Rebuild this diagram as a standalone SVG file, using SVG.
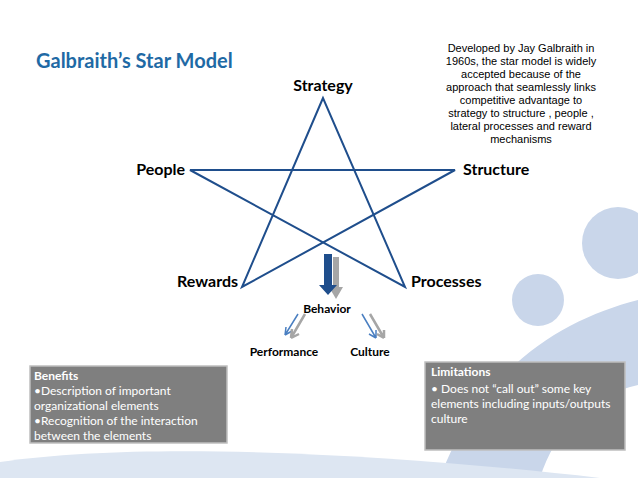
<svg xmlns="http://www.w3.org/2000/svg" width="638" height="478" viewBox="0 0 638 478">
<style>
.lbl{font-family:Lato,"Liberation Sans",sans-serif;font-weight:bold;fill:#000}
.box{fill:#7f7f7f;stroke:#bfbfbf;stroke-width:1.5}
.bt{font-family:Lato,"Liberation Sans",sans-serif;font-size:12px;fill:#fff}
.note{font-family:"Liberation Sans",Arial,sans-serif;font-size:11px;fill:#000}
</style>
<rect width="638" height="478" fill="#fff"/>
<g id="decor" fill="#c9d6ea">
<circle cx="618" cy="243" r="36"/>
<circle cx="538" cy="300" r="26"/>
<path d="M638 300 C560 320 480 370 440 478 L540 478 C555 430 590 395 638 385 Z"/>
<path d="M515 385 L570 350 L555 390 Z"/>
<path d="M0 462 C150 440 400 455 600 478 L0 478 Z" fill="#dde6f2"/>
</g>
<text x="36" y="68" font-family="Lato,Liberation Sans,sans-serif" font-weight="bold" font-size="20" fill="#1f6aa5">Galbraith’s Star Model</text>
<g id="note">
<text class="note" text-anchor="middle"><tspan x="521" y="52">Developed by Jay Galbraith in</tspan><tspan x="521" y="65">1960s, the star model is widely</tspan><tspan x="521" y="78">accepted because of the</tspan><tspan x="521" y="91">approach that seamlessly links</tspan><tspan x="521" y="104">competitive advantage to</tspan><tspan x="521" y="117">strategy to structure , people ,</tspan><tspan x="521" y="130">lateral processes and reward</tspan><tspan x="521" y="143">mechanisms</tspan></text>
</g>
<g id="connectors" stroke="#1f4e8c" stroke-width="2" fill="none">
<polygon points="323,98 242,287 455,170 190,170 405,287"/>
</g>
<g id="strategy"><text class="lbl" x="323" y="91" font-size="16" text-anchor="middle">Strategy</text></g>
<g id="people"><text class="lbl" x="185" y="175" font-size="16" text-anchor="end">People</text></g>
<g id="structure"><text class="lbl" x="463" y="175" font-size="16">Structure</text></g>
<g id="rewards"><text class="lbl" x="238" y="287" font-size="16" text-anchor="end">Rewards</text></g>
<g id="processes"><text class="lbl" x="411" y="287" font-size="16">Processes</text></g>
<g id="arrows">
<polygon points="333,257 339,257 339,287 343,287 336,299 329,287 333,287" fill="#a6a6a6"/>
<polygon points="324,254 332,254 332,285 337,285 328,295 319,285 324,285" fill="#1f4e8c"/>
<g stroke-width="1.5" fill="none">
<path d="M298 314 L285 335 M285 335 L286 327 M285 335 L292 331" stroke="#4a7fc1"/>
<path d="M305 314 L291 338 M291 338 L292 329 M291 338 L299 334" stroke="#a6a6a6" stroke-width="2.5"/>
<path d="M362 314 L376 338 M376 338 L369 334 M376 338 L376 330" stroke="#4a7fc1"/>
<path d="M370 314 L384 338 M384 338 L377 334 M384 338 L384 330" stroke="#a6a6a6" stroke-width="2.5"/>
</g>
</g>
<g id="behavior"><text class="lbl" x="327" y="313" font-size="12" text-anchor="middle">Behavior</text></g>
<g id="performance"><text class="lbl" x="284" y="356" font-size="12" text-anchor="middle">Performance</text></g>
<g id="culture"><text class="lbl" x="370" y="356" font-size="12" text-anchor="middle">Culture</text></g>
<g id="benefits">
<rect class="box" x="30" y="366" width="197" height="77"/>
<text class="bt"><tspan x="34" y="380" font-weight="bold">Benefits</tspan><tspan x="34" y="395">•Description of important</tspan><tspan x="34" y="410">organizational elements</tspan><tspan x="34" y="425">•Recognition of the interaction</tspan><tspan x="34" y="440">between the elements</tspan></text>
</g>
<g id="limitations">
<rect class="box" x="425" y="362" width="200" height="88"/>
<text class="bt"><tspan x="431" y="376" font-weight="bold">Limitations</tspan><tspan x="431" y="393">•  Does not “call out” some key</tspan><tspan x="431" y="408">elements including inputs/outputs</tspan><tspan x="431" y="423">culture</tspan></text>
</g>
</svg>
